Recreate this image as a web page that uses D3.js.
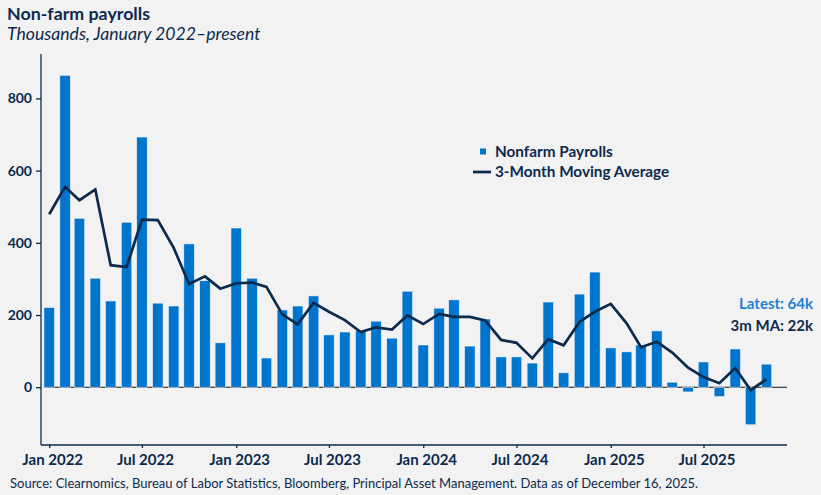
<!DOCTYPE html>
<html>
<head>
<meta charset="utf-8">
<script src="https://cdn.jsdelivr.net/npm/d3@7"></script>
<style>
  body { margin: 0; background: #f2f2f2; }
  svg { display: block; font-family: Lato, "Open Sans", sans-serif; }
</style>
</head>
<body>
<svg id="chart" width="821" height="495"></svg>
<script>
// DATA (thousands)
const firstMonth = "2022-01";
const payrolls = [
  221, 864, 468, 302, 239, 457, 693, 233, 225, 397, 295, 123,
  441, 302, 81, 214, 225, 253, 145, 153, 157, 183, 136, 266,
  117, 219, 242, 114, 189, 84, 84, 67, 236, 40, 258, 319,
  109, 98, 117, 156, 14, -13, 70, -26, 106, -104, 64
];
const movingAvg = [
  479, 555, 518, 548, 338, 333, 464, 463, 386, 286, 307, 273,
  288, 290, 278, 202, 174, 234, 209, 186, 153, 166, 160, 199,
  175, 203, 195, 195, 185, 131, 123, 80, 133, 116, 181, 209,
  231, 177, 111, 126, 96, 54, 28, 11, 53, -8, 22
];
const yTicks = [0, 200, 400, 600, 800];
const xTicks = ["2022-01", "2022-07", "2023-01", "2023-07", "2024-01", "2024-07", "2025-01", "2025-07"];
const legendLabels = ["Nonfarm Payrolls", "3-Month Moving Average"];
const latestLabel = "Latest: 64k";
const maLabel = "3m MA: 22k";

const navy = "#0c2a4d";
const blue = "#0075ce";

const parseMonth = d3.timeParse("%Y-%m");
const months = d3.timeMonth.range(parseMonth(firstMonth), d3.timeMonth.offset(parseMonth(firstMonth), payrolls.length));
const rows = months.map((m, i) => ({ date: m, value: payrolls[i], ma: movingAvg[i] }));

const svg = d3.select("#chart");

// SCALES
const x = d3.scaleTime()
  .domain([new Date(2021, 11, 16), new Date(2025, 11, 11)])
  .range([41, 787]);
const y = d3.scaleLinear().domain([-160, 923]).range([445, 54]);
const barW = 10.5;

// TITLE
svg.append("text").attr("x", 7).attr("y", 20)
  .attr("fill", navy).attr("font-size", 17.8).attr("font-weight", 700)
  .text("Non-farm payrolls");
svg.append("text").attr("x", 7).attr("y", 40)
  .attr("fill", navy).attr("font-size", 17.6).attr("font-style", "italic")
  .text("Thousands, January 2022–present");

// ZERO LINE
svg.append("line")
  .attr("x1", x(rows[0].date) - barW / 2).attr("x2", 787)
  .attr("y1", y(0)).attr("y2", y(0))
  .attr("stroke", "#111").attr("stroke-width", 1);

// BARS
svg.append("g").selectAll("rect")
  .data(rows)
  .join("rect")
  .attr("x", d => x(d.date) - barW / 2)
  .attr("width", barW)
  .attr("y", d => y(Math.max(0, d.value)))
  .attr("height", d => Math.abs(y(d.value) - y(0)))
  .attr("fill", blue)
  .attr("stroke", "#f2f2f2").attr("stroke-width", 0.6);

// MOVING AVERAGE
const line = d3.line().x(d => x(d.date)).y(d => y(d.ma));
svg.append("path").datum(rows)
  .attr("d", line)
  .attr("fill", "none").attr("stroke", navy)
  .attr("stroke-width", 2.7).attr("stroke-linejoin", "miter");

// AXES
const yAxis = svg.append("g").attr("transform", "translate(41,0)")
  .call(d3.axisLeft(y).tickValues(yTicks).tickSize(5).tickPadding(4));
yAxis.select(".domain").attr("d", `M0,${y.range()[1]}V${y.range()[0]}`);

const xAxis = svg.append("g").attr("transform", "translate(0,445)")
  .call(d3.axisBottom(x).tickValues(xTicks.map(parseMonth))
    .tickFormat(d3.timeFormat("%b %Y")).tickSize(3).tickPadding(6));
xAxis.select(".domain").attr("d", `M41,0H787`);

[yAxis, xAxis].forEach(g => {
  g.select(".domain").attr("stroke", navy).attr("stroke-width", 1.3);
  g.selectAll(".tick line").attr("stroke", navy).attr("stroke-width", 1.3);
  g.selectAll(".tick text").attr("fill", navy)
    .attr("font-family", "Lato, sans-serif").attr("font-weight", 700);
});
yAxis.selectAll(".tick text").attr("font-size", 14);
xAxis.selectAll(".tick text").attr("font-size", 15).attr("dx", 3);

// LEGEND
svg.append("rect").attr("x", 480).attr("y", 148.5).attr("width", 6).attr("height", 6).attr("fill", blue);
svg.append("line").attr("x1", 473).attr("x2", 491).attr("y1", 172).attr("y2", 172)
  .attr("stroke", navy).attr("stroke-width", 2.7);
svg.selectAll(".legend-text")
  .data(legendLabels)
  .join("text")
  .attr("class", "legend-text")
  .attr("x", 495).attr("y", (d, i) => 157 + i * 20)
  .attr("fill", navy).attr("font-size", 15.3).attr("font-weight", 700)
  .text(d => d);

// ANNOTATION
svg.append("text").attr("x", 813).attr("y", 309).attr("text-anchor", "end")
  .attr("fill", "#1f7fd4").attr("font-size", 15).attr("font-weight", 700)
  .text(latestLabel);
svg.append("text").attr("x", 813).attr("y", 331).attr("text-anchor", "end")
  .attr("fill", navy).attr("font-size", 15).attr("font-weight", 700)
  .text(maLabel);

// SOURCE
svg.append("text").attr("x", 10).attr("y", 488)
  .attr("fill", navy).attr("font-size", 13)
  .text("Source: Clearnomics, Bureau of Labor Statistics, Bloomberg, Principal Asset Management. Data as of December 16, 2025.");
</script>
</body>
</html>
